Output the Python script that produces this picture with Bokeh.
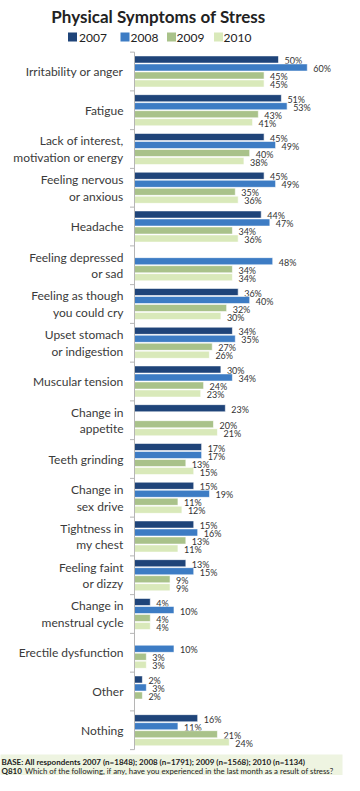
import math
from bokeh.plotting import figure
from bokeh.models import Range1d, ColumnDataSource
from bokeh.core.properties import value
from bokeh.embed import file_html
from bokeh.resources import INLINE

NaN = float("nan")

# ---------------- data ----------------
categories = [
    "Irritability or anger", "Fatigue", "Lack of interest,\nmotivation or energy",
    "Feeling nervous\nor anxious", "Headache", "Feeling depressed\nor sad",
    "Feeling as though\nyou could cry", "Upset stomach\nor indigestion", "Muscular tension",
    "Change in\nappetite", "Teeth grinding", "Change in\nsex drive",
    "Tightness in\nmy chest", "Feeling faint\nor dizzy", "Change in\nmenstrual cycle",
    "Erectile dysfunction", "Other", "Nothing",
]
years = ["2007", "2008", "2009", "2010"]
v2007 = [50, 51, 45, 45, 44, NaN, 36, 34, 30, 23, 17, 15, 15, 13, 4, NaN, 2, 16]
v2008 = [60, 53, 49, 49, 47, 48, 40, 35, 34, NaN, 17, 19, 16, 15, 10, 10, 3, 11]
v2009 = [45, 43, 40, 35, 34, 34, 32, 27, 24, 20, 13, 11, 13, 9, 4, 3, 2, 21]
v2010 = [45, 41, 38, 36, 36, 34, 30, 26, 23, 21, 15, 12, 11, 9, 4, 3, NaN, 24]
series = [v2007, v2008, v2009, v2010]
colors = ["#1f4479", "#3d7cc4", "#a9c28a", "#d9e9ba"]

title_text = "Physical Symptoms of Stress"
base_text = "BASE: All respondents 2007 (n=1848);  2008 (n=1791); 2009 (n=1568); 2010 (n=1134)"
q_code = "Q810"
q_text = "Which of the following, if any, have you experienced in the last month as a result of stress?"

# the upper and lower panels of the original use different horizontal scales
SPLIT = 9

# ---------------- layout ----------------
W, H = 344, 775
ORIGIN = 142.0       # page x of the 0% line
TOP_SCALE = 2.88     # px per % (upper panel)
LOW_SCALE = 3.95     # px per % (lower panel)
G0, PITCH = 79.0, 38.75

def px(page_x):
    return (page_x - ORIGIN) / TOP_SCALE

def py(page_y):
    return (page_y - G0) / PITCH

LABEL_FONT = value("Lato")
NUM_FONT = value("Lato")

p = figure(width=W, height=H,
           x_range=Range1d(px(8), px(8 + W)),
           y_range=Range1d(py(8 + H), py(8)),
           x_axis_location=None, y_axis_location=None,
           output_backend="svg", toolbar_location=None,
           min_border=0, outline_line_color=None,
           background_fill_color="white", border_fill_color="white")
p.grid.visible = False
p.extra_x_ranges = {"low": Range1d((8 - ORIGIN) / LOW_SCALE, (8 + W - ORIGIN) / LOW_SCALE)}

offsets = [-12 / PITCH, -4 / PITCH, 4 / PITCH, 12 / PITCH]
bar_h = 7.2 / PITCH

for k, vals in enumerate(series):
    for part, rng in (("top", "default"), ("low", "low")):
        idx = range(0, SPLIT) if part == "top" else range(SPLIT, len(categories))
        ys, xs, labs = [], [], []
        for i in idx:
            v = vals[i]
            if isinstance(v, float) and math.isnan(v):
                continue
            ys.append(i + offsets[k])
            xs.append(v)
            labs.append(f"{v}%")
        src = ColumnDataSource(dict(y=ys, right=xs, lab=labs))
        kw = {} if rng == "default" else {"x_range_name": "low"}
        p.hbar(y="y", left=0, right="right", height=bar_h, source=src,
               fill_color=colors[k], line_color="white", line_width=0.6, **kw)
        p.text(x="right", y="y", text="lab", source=src, x_offset=6, y_offset=1,
               text_align="left", text_baseline="middle",
               text_font=NUM_FONT, text_font_size="9px", text_color="#333333", **kw)

# axis line and tick marks
n = len(categories)
p.segment(x0=[0], y0=[-0.5], x1=[0], y1=[n - 0.5], line_color="#b5b5b5", line_width=1)
p.segment(x0=[px(137.5)] * (n + 1), y0=[i - 0.5 for i in range(n + 1)],
          x1=[0] * (n + 1), y1=[i - 0.5 for i in range(n + 1)],
          line_color="#b5b5b5", line_width=1)

# category labels
p.text(x=[px(131)] * n, y=list(range(n)), text=categories,
       text_align="right", text_baseline="middle", text_line_height=1.1,
       text_font=LABEL_FONT, text_font_size="12px", text_color="#3a3a3a")

# title
p.text(x=[px(166)], y=[py(24)], text=[title_text], text_align="center",
       text_baseline="middle", text_font=LABEL_FONT, text_font_style="bold",
       text_font_size="17px", text_color="#222222")

# legend
sq_x = [80, 132.5, 179, 226]
tx_x = [86.5, 138, 184, 231]
p.rect(x=[px(v) for v in sq_x], y=[py(44.5)] * 4, width=9, height=9,
       width_units="screen", height_units="screen",
       fill_color=colors, line_color=None)
p.text(x=[px(v) for v in tx_x], y=[py(45)] * 4, text=years,
       text_align="left", text_baseline="middle",
       text_font=NUM_FONT, text_font_size="12px", text_color="#222222")

# footer
p.quad(left=[px(5)], right=[px(350)], top=[py(762)], bottom=[py(783)],
       fill_color="#eef4e1", line_color=None)
p.text(x=[px(9)], y=[py(769.5)], text=[base_text], text_align="left",
       text_baseline="middle", text_font=LABEL_FONT, text_font_style="bold",
       text_font_size="8px", text_color="#222222")
p.text(x=[px(9)], y=[py(778)], text=[q_code], text_align="left",
       text_baseline="middle", text_font=LABEL_FONT, text_font_style="bold",
       text_font_size="8px", text_color="#222222")
p.text(x=[px(32.5)], y=[py(778)], text=[q_text], text_align="left",
       text_baseline="middle", text_font=LABEL_FONT,
       text_font_size="7.8px", text_color="#222222")

open("out.html", "w").write(file_html(p, INLINE))
